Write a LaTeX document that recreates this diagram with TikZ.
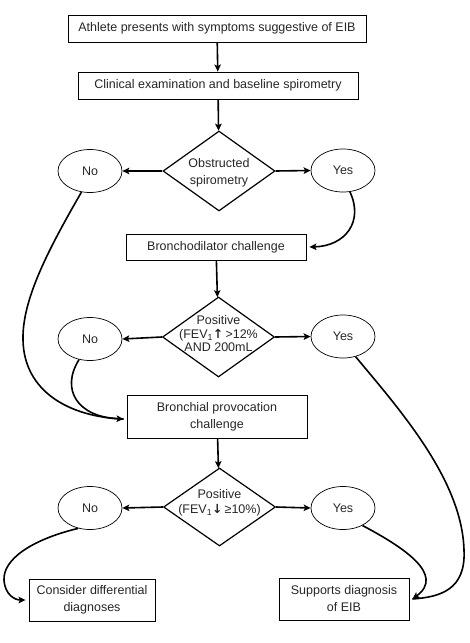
\documentclass[tikz,border=0pt]{standalone}
\usepackage{fontspec}
\setmainfont{Liberation Sans}
\newfontfamily\arrowfont{DejaVu Sans}
\usetikzlibrary{arrows.meta,shapes.geometric}
\begin{document}
\begin{tikzpicture}[x=1pt,y=-1pt,
  every node/.style={font=\fontsize{12.5}{17}\selectfont, text=black!85},
  box/.style={draw, line width=0.9pt, rectangle, inner sep=0pt, align=center},
  dia/.style={draw, line width=1.2pt, diamond, inner sep=0pt, minimum width=112pt, minimum height=80pt},
  oval/.style={draw, line width=0.7pt, ellipse, inner sep=0pt, minimum width=64pt, minimum height=43pt},
  txt/.style={align=center, inner sep=0pt},
  arr/.style={line width=1.6pt, -{Stealth[length=7pt,width=6.5pt,inset=1.5pt]}},
  con/.style={line width=1.6pt}
]
\useasboundingbox (0,0) rectangle (470,643);

% boxes
\node[box, minimum width=298pt, minimum height=27pt] (b1) at (217,28.5) {Athlete presents with symptoms suggestive of EIB};
\node[box, minimum width=280pt, minimum height=27pt] (b2) at (218,85.5) {Clinical examination and baseline spirometry};
\node[box, minimum width=180pt, minimum height=26pt] (b3) at (216,247) {Bronchodilator challenge};
\node[box, minimum width=180pt, minimum height=43pt] (b4) at (217,416.5) {Bronchial provocation\\challenge};
\node[box, minimum width=126pt, minimum height=42pt] (b5) at (92,600) {Consider differential\\diagnoses};
\node[box, minimum width=130pt, minimum height=42pt] (b6) at (344,599) {Supports diagnosis\\of EIB};

% diamonds
\node[dia] (d1) at (219,171) {};
\node[txt] (d1t) at (219,173) {Obstructed\\spirometry};
\node[dia] (d2) at (218.5,337) {};
\node[txt, font=\fontsize{12.5}{13.5}\selectfont] (d2t) at (218.5,334) {Positive\\(FEV\textsubscript{1}{\arrowfont\bfseries ↑}\,\textgreater12\%\\AND 200mL};
\node[dia, minimum height=78pt] (d3) at (219.5,507) {};
\node[txt, font=\fontsize{12.5}{15}\selectfont] (d3t) at (219.5,503) {Positive\\(FEV\textsubscript{1}{\arrowfont\bfseries ↓}\,≥10\%)};

% ovals
\node[oval] (no1) at (90,171) {No};
\node[oval] (yes1) at (343,170.5) {Yes};
\node[oval] (no2) at (90,339) {No};
\node[oval] (yes2) at (343,336.5) {Yes};
\node[oval] (no3) at (90,508) {No};
\node[oval] (yes3) at (343,508) {Yes};

% straight arrows
\draw[arr] (b1) -- (b2);
\draw[arr] (b2) -- (d1);
\draw[arr] (b3) -- (d2);
\draw[arr] (b4) -- (d3);
\draw[arr] (d1.west) -- (no1.east);
\draw[arr] (d1.east) -- (yes1.west);
\draw[arr] (d2.west) -- (no2.east);
\draw[arr] (d2.east) -- (yes2.west);
\draw[arr] (d3.west) -- (no3.east);
\draw[arr] (d3.east) -- (yes3.west);

% curved connectors
\draw[arr] (yes1.-72) .. controls (364,222) and (345,246) .. ([xshift=3pt]b3.east);
\draw[con] (no1.-112) .. controls (48,250) and (22,300) .. (23,340)
  .. controls (24,392) and (70,417) .. ([xshift=-3pt,yshift=-2.5pt]b4.west);
\draw[arr] (no2.-118) .. controls (60,390) and (78,417) .. ([xshift=-3pt,yshift=-2.5pt]b4.west);
\draw[con] (yes2.-58) .. controls (400,410) and (462,480) .. (464,550)
  .. controls (466,590) and (440,597) .. ([xshift=3pt]b6.east);
\draw[arr] (yes3.-42) .. controls (405,548) and (445,575) .. ([xshift=3pt]b6.east);
\draw[arr] (no3.-120) .. controls (30,540) and (3,560) .. (4,580)
  .. controls (5,595) and (15,600) .. ([xshift=-3pt]b5.west);
\end{tikzpicture}
\end{document}
